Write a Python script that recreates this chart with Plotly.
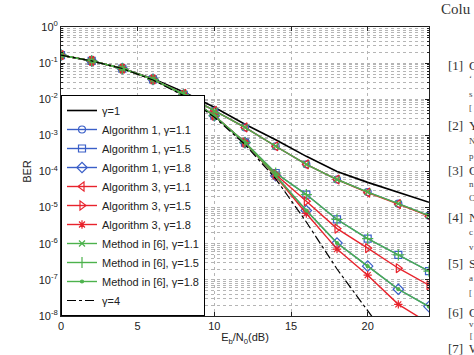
import plotly.graph_objects as go

# ---------------- data ----------------
ebn0 = [0, 2, 4, 6, 8, 10, 12, 14, 16, 18, 20, 22, 24]

ber_g1 = [0.166, 0.115, 0.0708, 0.0372, 0.0158, 6.0e-3, 2.04e-3, 7.6e-4, 2.63e-4, 1.0e-4, 5.0e-5, 2.7e-5, 1.41e-5]

alg1_g11 = [0.166, 0.115, 0.0708, 0.0355, 0.0141, 4.8e-3, 1.66e-3, 5.0e-4, 1.58e-4, 6.0e-5, 2.7e-5, 1.29e-5, 6.0e-6]
alg1_g15 = [0.166, 0.115, 0.0708, 0.0355, 0.0132, 3.5e-3, 6.3e-4, 9.1e-5, 2.3e-5, 4.7e-6, 1.38e-6, 4.9e-7, 1.74e-7]
alg1_g18 = [0.166, 0.115, 0.0708, 0.0355, 0.0132, 3.5e-3, 6.3e-4, 7.6e-5, 8.3e-6, 1.05e-6, 2.4e-7, 5.5e-8, 1.82e-8]

alg3_g11 = [0.166, 0.115, 0.0708, 0.0355, 0.0141, 4.8e-3, 1.66e-3, 5.0e-4, 1.58e-4, 6.0e-5, 2.6e-5, 1.25e-5, 5.8e-6]
alg3_g15 = [0.166, 0.115, 0.0708, 0.0355, 0.0132, 3.5e-3, 6.3e-4, 8.3e-5, 1.51e-5, 2.63e-6, 7.6e-7, 2.1e-7, 7.1e-8]
alg3_g18 = [0.166, 0.115, 0.0708, 0.0355, 0.0132, 3.5e-3, 6.3e-4, 7.4e-5, 6.9e-6, 7.1e-7, 1.35e-7, 2.1e-8, 6.3e-9]

meth_g11 = [0.166, 0.115, 0.0708, 0.0355, 0.0141, 4.8e-3, 1.66e-3, 5.0e-4, 1.58e-4, 6.0e-5, 2.7e-5, 1.29e-5, 6.0e-6]
meth_g15 = [0.166, 0.115, 0.0708, 0.0355, 0.0132, 3.5e-3, 6.3e-4, 9.1e-5, 2.3e-5, 4.7e-6, 1.38e-6, 4.9e-7, 1.74e-7]
meth_g18 = [0.166, 0.115, 0.0708, 0.0355, 0.0132, 3.5e-3, 6.3e-4, 7.6e-5, 8.3e-6, 1.05e-6, 2.4e-7, 5.5e-8, 1.82e-8]

ebn0_g4 = [0, 2, 4, 6, 8, 10, 12, 14, 16, 18, 20, 22]
ber_g4 = [0.166, 0.115, 0.0708, 0.034, 0.0126, 3.2e-3, 5.6e-4, 6.3e-5, 4.0e-6, 2.0e-7, 1.4e-8, 1.0e-9]

y_tickvals = [1e-8, 1e-7, 1e-6, 1e-5, 1e-4, 1e-3, 1e-2, 1e-1, 1]
y_ticktext = ["10<sup>-8</sup>", "10<sup>-7</sup>", "10<sup>-6</sup>", "10<sup>-5</sup>",
              "10<sup>-4</sup>", "10<sup>-3</sup>", "10<sup>-2</sup>", "10<sup>-1</sup>", "10<sup>0</sup>"]
x_tickvals = [0, 5, 10, 15, 20]

# side text of the neighbouring paper column
ref_labels = ["[1]", "[2]", "[3]", "[4]", "[5]", "[6]", "[7]"]
ref_ypix = [65, 125, 170, 217, 263, 312, 348]
ref_first = ["C", "Y", "C", "N", "S", "C", "W"]
cont_letters = ["‘", "s", "[", "N", "p", "n", "C", "c", "v", "a", "[", "v<br>["]
cont_ypix = [78, 94, 108, 141, 156, 184, 198, 232, 247, 278, 293, 330]

# ---------------- style ----------------
BLUE = "#3a5fc8"
RED = "#e8232c"
GREEN = "#4cb24c"
FONT = "Arial, Liberation Sans, Helvetica, sans-serif"
SERIF = "Liberation Serif, Times New Roman, serif"

fig = go.Figure()

def add(x, y, name, color, symbol=None, size=7, dash="solid", width=1.4):
    mode = "lines+markers" if symbol else "lines"
    kw = {}
    if symbol:
        kw["marker"] = dict(symbol=symbol, size=size, color=color,
                            line=dict(color=color, width=1.2))
    fig.add_trace(go.Scatter(x=x, y=y, name=name, mode=mode,
                             line=dict(color=color, width=width, dash=dash), **kw))

add(ebn0, ber_g1, "γ=1", "black", width=1.6)
add(ebn0, alg1_g11, "Algorithm 1, γ=1.1", BLUE, "circle-open")
add(ebn0, alg1_g15, "Algorithm 1, γ=1.5", BLUE, "square-open")
add(ebn0, alg1_g18, "Algorithm 1, γ=1.8", BLUE, "diamond-open", size=8)
add(ebn0, alg3_g11, "Algorithm 3, γ=1.1", RED, "triangle-left-open", size=8)
add(ebn0, alg3_g15, "Algorithm 3, γ=1.5", RED, "triangle-right-open", size=8)
add(ebn0, alg3_g18, "Algorithm 3, γ=1.8", RED, "asterisk-open", size=7)
add(ebn0, meth_g11, "Method in [6], γ=1.1", GREEN, "x-thin-open", size=6)
add(ebn0, meth_g15, "Method in [6], γ=1.5", GREEN, "cross-thin-open", size=8)
add(ebn0, meth_g18, "Method in [6], γ=1.8", GREEN, "circle", size=3)
add(ebn0_g4, ber_g4, "γ=4", "black", dash="dashdot", width=1.2)

# ---------------- layout ----------------
L, R, T, B, W, H = 61, 45, 27, 39, 474, 355
pw, ph = W - L - R, H - T - B

def px_x(p):
    return (p - L) / pw

def px_y(p):
    return (H - B - p) / ph

def side(text, xp, yp, size=12, color="#333"):
    return dict(text=text, x=px_x(xp), y=px_y(yp), xref="paper", yref="paper",
                xanchor="left", yanchor="middle", showarrow=False,
                font=dict(family=SERIF, size=size, color=color))

annotations = [side("Colu", 439, 9, size=15)]
for lab, yp, fl in zip(ref_labels, ref_ypix, ref_first):
    annotations.append(side(lab, 446, yp, size=13))
    annotations.append(side(fl, 467, yp, size=13))
for ch, yp in zip(cont_letters, cont_ypix):
    annotations.append(side(ch, 467, yp, size=9, color="#444"))

GRID = "#b5b5b5"
fig.update_layout(
    width=W, height=H, autosize=False,
    margin=dict(l=L, r=R, t=T, b=B, pad=0),
    paper_bgcolor="white", plot_bgcolor="white",
    font=dict(family=FONT, size=11, color="#222"),
    showlegend=True,
    legend=dict(x=0, y=0, xanchor="left", yanchor="bottom",
                bgcolor="white", bordercolor="black", borderwidth=1,
                font=dict(family=FONT, size=11, color="#222"),
                itemwidth=30, tracegroupgap=0),
    annotations=annotations,
    xaxis=dict(range=[0, 24], tickmode="array", tickvals=x_tickvals,
               showgrid=True, gridcolor=GRID, griddash="dot", gridwidth=1,
               zeroline=False, showline=True, linecolor="#222", linewidth=1,
               mirror="allticks", ticks="inside", ticklen=4, tickcolor="#222",
               tickfont=dict(size=11),
               title=dict(text="E<sub>b</sub>/N<sub>0</sub>(dB)", standoff=2, font=dict(size=11))),
    yaxis=dict(type="log", range=[-8, 0], tickmode="array",
               tickvals=y_tickvals, ticktext=y_ticktext,
               showgrid=True, gridcolor=GRID, griddash="dot", gridwidth=1,
               zeroline=False, showline=True, linecolor="#222", linewidth=1,
               mirror="allticks", ticks="inside", ticklen=4, tickcolor="#222",
               tickfont=dict(size=11),
               minor=dict(dtick="D1", showgrid=True, gridcolor=GRID, griddash="dot",
                          gridwidth=1, ticks="inside", ticklen=2, tickcolor="#222"),
               title=dict(text="BER", standoff=4, font=dict(size=11))),
)

fig.write_html("out.html", config={"displayModeBar": False},
               post_script="document.body.style.margin='0px';document.body.style.overflow='hidden';")
